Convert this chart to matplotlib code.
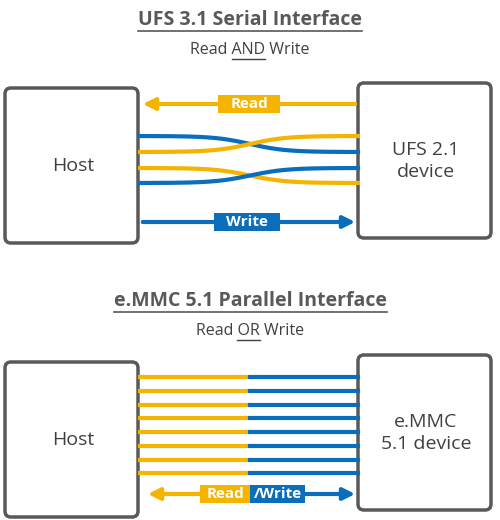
import matplotlib
matplotlib.use("Agg")
import matplotlib.pyplot as plt
from matplotlib.patches import FancyBboxPatch
import numpy as np

plt.rcParams['font.family'] = ['Open Sans', 'DejaVu Sans']

YEL = '#F5B400'
BLU = '#0A6EBD'
GRY = '#595959'
TXT = '#404040'

top_title = "UFS 3.1 Serial Interface"
bot_title = "e.MMC 5.1 Parallel Interface"
top_boxes = [("Host", 5, 88), ("UFS 2.1\ndevice", 358, 83)]
bot_boxes = [("Host", 5, 362), ("e.MMC\n5.1 device", 358, 355)]
parallel_y = [377, 391, 405, 418, 432, 446, 460, 473]
twist_pairs = [(136, 152, BLU, YEL), (168, 183, YEL, BLU)]

fig = plt.figure(figsize=(5, 5.2), dpi=100)
ax = fig.add_axes([0, 0, 1, 1])
ax.set_xlim(0, 500); ax.set_ylim(520, 0); ax.axis('off')

def box(x, y, label):
    ax.add_patch(FancyBboxPatch((x + 6, y + 6), 133 - 12, 155 - 12,
                 boxstyle="round,pad=6", fc='white', ec=GRY, lw=2.5))
    ax.text(x + 68, y + 78, label, ha='center', va='center', fontsize=14,
            color=TXT, linespacing=1.3)

def title(y, t, sub_parts):
    tt = ax.text(250, y, t, ha='center', va='center', fontsize=14,
                 fontweight='bold', color=GRY)
    fig.canvas.draw()
    bb = tt.get_window_extent().transformed(ax.transData.inverted())
    ax.plot([bb.x0, bb.x1], [y + 11, y + 11], color=GRY, lw=1.2)
    ax.text(250, y + 30, "".join(sub_parts), ha='center', va='center',
            fontsize=11.5, color=TXT)
    # underline middle word
    full = ax.text(250, y + 30, "".join(sub_parts), alpha=0, ha='center', va='center', fontsize=11.5)
    pre = ax.text(0, 0, sub_parts[0], alpha=0, fontsize=11.5)
    mid = ax.text(0, 0, sub_parts[1], alpha=0, fontsize=11.5)
    fig.canvas.draw()
    inv = ax.transData.inverted()
    fb = full.get_window_extent().transformed(inv)
    pw = pre.get_window_extent().transformed(inv); mw = mid.get_window_extent().transformed(inv)
    x0 = fb.x0 + (pw.x1 - pw.x0)
    ax.plot([x0, x0 + (mw.x1 - mw.x0)], [y + 39, y + 39], color=TXT, lw=1)

title(20, top_title, ["Read ", "AND", " Write"])
title(301, bot_title, ["Read ", "OR", " Write"])

for lab, x, y in top_boxes + bot_boxes:
    box(x, y, lab)

def arrow(x0, x1, y, c):
    ax.annotate('', xy=(x1, y), xytext=(x0, y),
                arrowprops=dict(arrowstyle='-|>,head_width=0.35,head_length=0.7', color=c, lw=3))

def tag(x0, x1, y, t, c):
    ax.add_patch(plt.Rectangle((x0, y - 9), x1 - x0, 18, fc=c, ec='none', zorder=3))
    ax.text((x0 + x1) / 2, y, t, ha='center', va='center', color='white',
            fontsize=11, fontweight='bold', zorder=4)

arrow(358, 140, 104, YEL); tag(218, 280, 104, "Read", YEL)
arrow(140, 358, 222, BLU); tag(214, 280, 222, "Write", BLU)

xs = np.linspace(140, 358, 200)
s = 1 / (1 + np.exp(-(xs - 250) / 18))
for ya, yb, ca, cb in twist_pairs:
    ax.plot(xs, ya + (yb - ya) * s, color=ca, lw=3)
    ax.plot(xs, yb + (ya - yb) * s, color=cb, lw=3)

for y in parallel_y:
    ax.plot([140, 250], [y, y], color=YEL, lw=3)
    ax.plot([250, 358], [y, y], color=BLU, lw=3)

arrow(250, 145, 494, YEL); arrow(250, 358, 494, BLU)
tag(200, 250, 494, "Read", YEL); tag(250, 305, 494, "/Write", BLU)

fig.savefig("out.png", dpi=100)
